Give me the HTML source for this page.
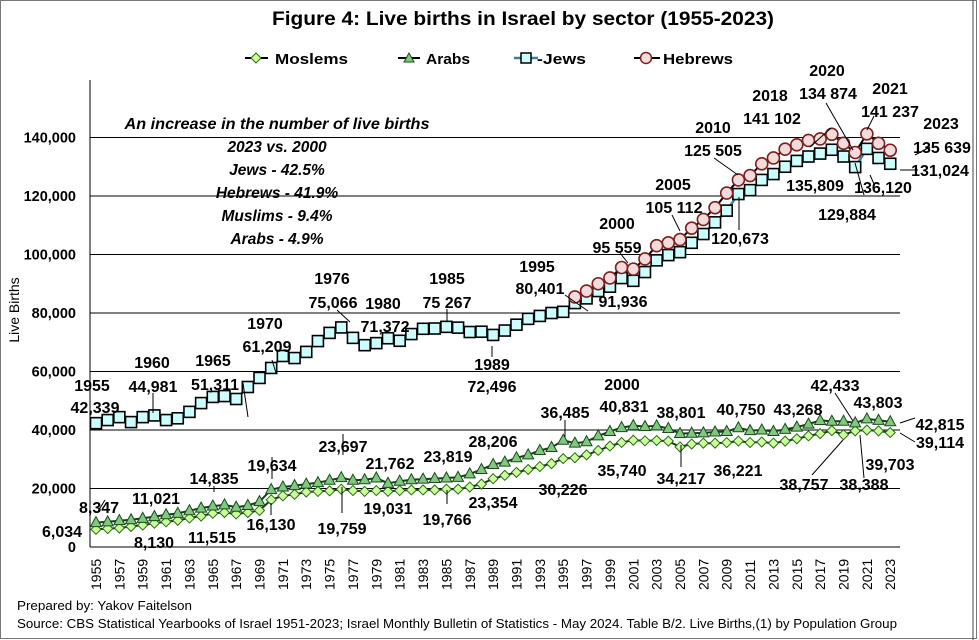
<!DOCTYPE html>
<html><head><meta charset="utf-8">
<style>
html,body{margin:0;padding:0;background:#fff;}
svg{display:block;font-family:"Liberation Sans",sans-serif;}
.lb{font-weight:bold;font-size:16px;fill:#000;text-anchor:middle;}
.tk{font-weight:bold;font-size:14.5px;text-anchor:end;}
.xl{font-size:14px;}
.an{font-weight:bold;font-style:italic;font-size:15.5px;text-anchor:middle;}
</style></head><body>
<svg id="s" width="979" height="640" viewBox="0 0 979 640" xmlns="http://www.w3.org/2000/svg">
<rect x="0.5" y="0.5" width="976" height="638" fill="#fff" stroke="#777" stroke-width="1"/>
<line x1="973" y1="0" x2="973" y2="640" stroke="#444" stroke-width="1"/>
<text x="523" y="25" font-weight="bold" font-size="19" text-anchor="middle" textLength="502" lengthAdjust="spacingAndGlyphs">Figure 4:  Live births in Israel by sector (1955-2023)</text>
<g font-weight="bold" font-size="15">
<line x1="245" y1="58" x2="268" y2="58" stroke="#000" stroke-width="2"/><polygon points="256,53 261,58 256,63 251,58" fill="#ccff99" stroke="#2a6a1a" stroke-width="1"/>
<text x="275" y="64" textLength="73" lengthAdjust="spacingAndGlyphs">Moslems</text>
<line x1="398" y1="58" x2="420" y2="58" stroke="#000" stroke-width="2"/><polygon points="409,53 414,62 404,62" fill="#7fc97f" stroke="#1a4a1a" stroke-width="1"/>
<text x="426" y="64" textLength="44" lengthAdjust="spacingAndGlyphs">Arabs</text>
<line x1="514" y1="58" x2="538" y2="58" stroke="#2e86ab" stroke-width="2.5"/><rect x="521" y="53" width="10" height="10" fill="#ccffff" stroke="#000" stroke-width="1.5"/>
<text x="537" y="64" textLength="49" lengthAdjust="spacingAndGlyphs">-Jews</text>
<line x1="634" y1="58" x2="660" y2="58" stroke="#000" stroke-width="2"/><circle cx="646" cy="58" r="5.5" fill="#f2dcdb" stroke="#7f1f1f" stroke-width="1.5"/>
<text x="663" y="64" textLength="70" lengthAdjust="spacingAndGlyphs">Hebrews</text>
</g>
<g id="g"></g>
</svg>
<script>
var s=document.getElementById('g'),h='';
function X(y){return 96+(y-1955)*11.68;}
function Y(v){return 547-v*0.002925;}
h+='<line x1="90" y1="80" x2="90" y2="547" stroke="#000" stroke-width="1"/>';
for(var i=0;i<=7;i++){var yy=Y(i*20000);h+='<line x1="90" y1="'+yy+'" x2="900" y2="'+yy+'" stroke="#000" stroke-width="1"/>';
h+='<text class="tk" x="76" y="'+(yy+5)+'">'+(i==0?'0':(i*20)+',000')+'</text>';}
for(var yr=1955;yr<=2023;yr+=2){var xx=X(yr)+5;h+='<text class="xl" transform="translate('+xx+',590) rotate(-90)">'+yr+'</text>';}
h+='<text font-size="14" transform="translate(19,310) rotate(-90)" text-anchor="middle">Live Births</text>';
var jews=[42339,43400,44400,42700,44400,44981,43400,44000,46200,49200,51311,51600,50600,54700,57800,61209,65300,64600,66700,70400,73200,75066,71500,69000,69700,71372,70500,72800,74600,74700,75267,75000,73500,73600,72496,74000,76000,78000,79000,80000,80401,83400,85000,87500,89000,91936,91000,94000,98000,99800,100800,104000,107000,111000,115000,120673,122000,125500,127500,130000,132000,133500,134500,135809,133500,129884,136120,133000,131024];
var heb=[85500,87500,90000,92000,95559,95000,98500,103000,104000,105112,109000,112000,116000,121000,125505,127000,131000,133000,136000,137500,139000,139500,141102,138000,134874,141237,138000,135639];
var arab=[8347,8600,9000,9300,9800,10400,11021,11500,12400,13300,14000,14400,13600,14200,15500,19634,20500,21000,21500,22000,22800,23697,22800,23000,23600,21762,22500,23000,23200,23400,23600,23819,25000,26500,28206,29000,30500,31500,33000,34000,36485,35500,36000,38000,39500,40831,41500,41200,41400,40500,38801,38900,39000,39300,39500,40750,39800,40000,39500,40200,41000,42000,43268,43000,43000,42433,43803,43300,42815];
var mos=[6034,6300,6500,7000,7500,8130,8600,9100,9900,10600,11515,11800,11300,11800,12500,16130,17500,18000,18800,19000,19200,19759,19300,19000,19300,19031,19300,19500,19500,19500,19766,19800,20500,21500,23354,24500,25500,26500,27500,28500,30226,30500,31500,33000,34500,35740,36500,36300,36400,36200,34217,35200,35500,35500,35700,36221,35700,35900,35500,36200,37000,38000,38757,39800,38388,39703,40000,39700,39114];
function pts(a,y0){return a.map(function(v,i){return X(y0+i).toFixed(1)+','+Y(v).toFixed(1);}).join(' ');}
h+='<polyline points="'+pts(mos,1955)+'" fill="none" stroke="#1a3a1a" stroke-width="2"/>';
h+='<polyline points="'+pts(arab,1955)+'" fill="none" stroke="#1a3a1a" stroke-width="2"/>';
h+='<polyline points="'+pts(jews,1955)+'" fill="none" stroke="#2e86ab" stroke-width="2.5"/>';
h+='<polyline points="'+pts(heb,1996)+'" fill="none" stroke="#000" stroke-width="2"/>';
mos.forEach(function(v,i){var x=X(1955+i),y=Y(v);h+='<polygon points="'+x+','+(y-5)+' '+(x+5)+','+y+' '+x+','+(y+5)+' '+(x-5)+','+y+'" fill="#ccff99" stroke="#2a6a1a" stroke-width="1"/>';});
arab.forEach(function(v,i){var x=X(1955+i),y=Y(v);h+='<polygon points="'+x+','+(y-6)+' '+(x+5.5)+','+(y+4)+' '+(x-5.5)+','+(y+4)+'" fill="#7fc97f" stroke="#1a4a1a" stroke-width="1"/>';});
jews.forEach(function(v,i){var x=X(1955+i),y=Y(v);h+='<rect x="'+(x-5.5)+'" y="'+(y-5.5)+'" width="11" height="11" fill="#ccffff" stroke="#000" stroke-width="1.6"/>';});
heb.forEach(function(v,i){var x=X(1996+i),y=Y(v);h+='<circle cx="'+x+'" cy="'+y+'" r="6" fill="#f2dcdb" stroke="#7f1f1f" stroke-width="1.6"/>';});
var L=[['1955',92,385],['42,339',95,407],['1960',152,362],['44,981',153,386],['1965',213,360],['51,311',215,384],['1970',265,323],['61,209',267,346],['1976',332,278],['75,066',333,302],['1980',383,303],['71,372',385,326],['1985',447,278],['75 267',447,302],['1989',492,364],['72,496',492,386],
['1995',537,266],['80,401',540,288],['2000',617,223],['95 559',617,247],['91,936',623,301],['2005',673,184],['105 112',674,207],['120,673',740,238],['2010',713,127],['125 505',713,150],['2018',770,95],['141 102',772,118],['2020',827,70],['134 874',828,93],['2021',890,88],['141 237',890,111],['2023',941,123],['135 639',942,147],['131,024',940,170],['135,809',815,185],['136,120',883,187],['129,884',847,214],
['8,347',99,507],['11,021',156,498],['6,034',62,531],['8,130',154,542],['11,515',212,537],['14,835',214,478],['19,634',272,465],['23,697',343,446],['21,762',390,463],['23,819',448,456],['28,206',493,441],['16,130',271,524],['19,759',342,528],['19,031',388,508],['19,766',447,519],['23,354',493,502],
['36,485',565,412],['2000',622,384],['40,831',624,406],['38,801',681,412],['40,750',741,409],['43,268',798,409],['42,433',835,385],['43,803',878,402],['42,815',940,424],['39,114',940,442],['39,703',890,464],['38,757',804,484],['38,388',864,484],['35,740',622,470],['34,217',681,478],['36,221',738,470],['30,226',563,489]];
L.forEach(function(l){h+='<text class="lb" x="'+l[1]+'" y="'+(l[2]+6)+'">'+l[0]+'</text>';});
var ln=[[153,393,153,413],[243,383,248,417],[272,360,276,373],[337,310,350,322],[447,309,447,322],[492,357,492,346],[565,295,588,311],[620,253,628,263],[672,215,680,231],[739,230,739,197],[714,158,738,175],[826,103,853,150],[831,128,810,147],[874,116,867,130],[930,147,915,155],[918,170,900,170],[864,195,855,163],[874,184,870,175],[343,434,343,455],[272,457,272,479],[214,486,214,492],[105,500,97,513],
[565,420,565,437],[835,393,853,421],[915,418,900,423],[915,442,900,433],[864,478,860,435],[812,475,843,440],[342,513,342,487],[271,515,271,503],[447,504,447,490],[681,467,681,445]];
ln.forEach(function(l){h+='<line x1="'+l[0]+'" y1="'+l[1]+'" x2="'+l[2]+'" y2="'+l[3]+'" stroke="#000" stroke-width="1"/>';});
var A=[['An increase in the number of live births',277,129,305],['2023 vs. 2000',277,152,0],['Jews - 42.5%',277,175,0],['Hebrews - 41.9%',277,198,0],['Muslims - 9.4%',277,221,0],['Arabs - 4.9%',277,244,0]];
A.forEach(function(a){h+='<text class="an" x="'+a[1]+'" y="'+a[2]+'"'+(a[3]?' textLength="'+a[3]+'" lengthAdjust="spacingAndGlyphs"':'')+'>'+a[0]+'</text>';});
h+='<text x="17" y="610" font-size="12.5" textLength="175" lengthAdjust="spacingAndGlyphs">Prepared by: Yakov Faitelson</text>';
h+='<text x="17" y="628" font-size="12.5" textLength="880" lengthAdjust="spacingAndGlyphs">Source: CBS Statistical Yearbooks of Israel 1951-2023;  Israel Monthly Bulletin of Statistics - May 2024.  Table B/2. Live Births,(1) by Population Group</text>';
s.innerHTML=h;
</script>
</body></html>
